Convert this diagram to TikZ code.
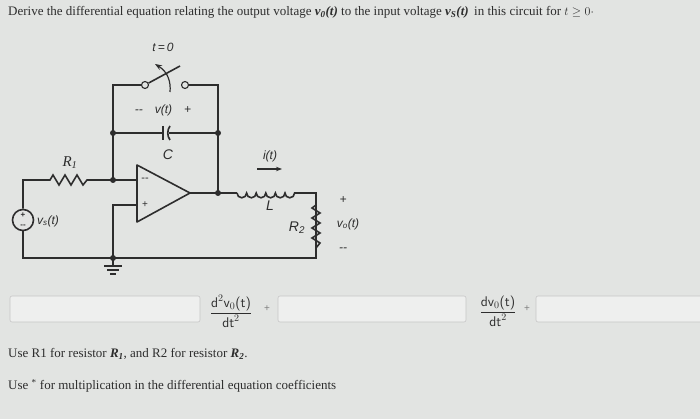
\documentclass[tikz,border=0pt]{standalone}
\usepackage{fontspec}
\setmainfont{Liberation Serif}
\newfontfamily\sans{Liberation Sans}
\usetikzlibrary{arrows.meta}
\definecolor{bg}{RGB}{226,228,226}
\definecolor{ink}{RGB}{45,45,45}
\begin{document}
\begin{tikzpicture}[x=1pt,y=-1pt,
  w/.style={draw=ink,line width=1.6pt},
  dot/.style={circle,fill=ink,inner sep=0pt,minimum size=6pt},
  lab/.style={font=\sans\fontsize{12}{12}\selectfont\itshape,text=ink,inner sep=0pt},
  box/.style={draw=gray!45,fill=bg!60!white,rounded corners=2pt,line width=0.6pt},
  txt/.style={font=\fontsize{13}{13}\selectfont,text=ink,anchor=west,inner sep=0pt}]
\fill[bg] (0,0) rectangle (700,419);
\useasboundingbox (0,0) rectangle (700,419);
% title
\node[txt] (title) at (8,12) {Derive the differential equation relating the output voltage \textbf{\textit{v\textsubscript{0}(t)}} to the input voltage \textbf{\textit{v\textsubscript{S}(t)}}\, in this circuit for {\sans $t\geq0$}$\cdot$};
% coordinates
\coordinate (a) at (23,180); \coordinate (b) at (23,258);
\coordinate (n1) at (113,180); \coordinate (g) at (113,258);
\coordinate (np) at (113,205);
\coordinate (o) at (218,193);
\coordinate (r) at (316,193); \coordinate (rb) at (316,258);
% source
\node[circle,draw=ink,line width=1.6pt,minimum size=21pt,inner sep=0pt] (vs) at (23,220) {};
\node[font=\sans\fontsize{8}{8}\selectfont\bfseries,text=ink] (vsp) at (23,215) {+};
\node[font=\sans\fontsize{8}{8}\selectfont\bfseries,text=ink] (vsm) at (23,226) {--};
\draw[w] (vs) -- (a) -- (50,180) -- (53,175) -- (59,185) -- (65,175) -- (71,185) -- (77,175) -- (83,185) -- (87,180) -- (n1);
\draw[w] (vs) -- (b) -- (rb) -- (r) -- (295,193);
% opamp
\draw[w,line join=round] (137,165) -- (190,193) -- (137,222) -- cycle;
\node[lab,font=\sans\fontsize{11}{11}\selectfont] (mi) at (145,180) {--};
\node[lab,font=\sans\fontsize{10}{10}\selectfont] (pl) at (145,205) {+};
\draw[w] (n1) -- (137,180);
\draw[w] (137,205) -- (np) -- (g);
\draw[w] (190,193) -- (o) -- (237,193);
% feedback
\coordinate (ct) at (113,133); \coordinate (co) at (218,133);
\draw[w] (n1) -- (ct) -- (113,85) -- (142,85);
\draw[w] (188,85) -- (218,85) -- (co) -- (o);
\draw[w] (ct) -- (163,133); \draw[w] (169,133) -- (co);
\draw[w] (163,126) -- (163,140);
\draw[w] (170,126) .. controls (167,130) and (167,136) .. (170,140);
\node[circle,draw=ink,line width=1.1pt,fill=bg,minimum size=7pt,inner sep=0pt] (s1) at (145,85) {};
\node[circle,draw=ink,line width=1.1pt,fill=bg,minimum size=7pt,inner sep=0pt] (s2) at (185,85) {};
\draw[w] (s1) -- (180,66);
\draw[draw=ink,line width=1.2pt,-{Stealth[length=7pt]}] (170,92) .. controls (171,82) and (168,72) .. (155,64);
% inductor
\draw[w] (237,193) arc (180:0:4.8) arc (180:0:4.8) arc (180:0:4.8) arc (180:0:4.8) arc (180:0:4.8) arc (180:0:4.8) -- (295,193);
% R2
\draw[w] (316,205) -- (312,208) -- (320,213) -- (312,218) -- (320,223) -- (312,228) -- (320,233) -- (312,238) -- (320,243) -- (316,248);
\draw[draw=ink,line width=1.2pt,-{Stealth[length=6pt]}] (257,169) -- (282,169);
\foreach \p in {n1,g,o,ct,co} \node[dot] at (\p) {};
% ground
\draw[w] (g) -- (113,266);
\draw[w] (104,266) -- (122,266); \draw[w] (107,270) -- (119,270); \draw[w] (110,274) -- (116,274);
% labels
\node[lab] (lt) at (163,47) {t\,=\,0};
\node[lab] (lv) at (163,110) {--\quad v(t)\quad +};
\node[lab,font=\sans\fontsize{14}{14}\selectfont\itshape] (lc) at (168,155) {C};
\node[lab] (li) at (270,156) {i(t)};
\node[lab,font=\sans\fontsize{14}{14}\selectfont\itshape] (lL) at (270,206) {L};
\node[lab,font=\fontsize{15}{15}\selectfont\itshape] (lr1) at (70,163) {R\textsubscript{1}};
\node[lab,font=\sans\fontsize{14}{14}\selectfont\itshape] (lr2) at (297,228) {R\textsubscript{2}};
\node[lab] (ls) at (48,221) {v\textsubscript{s}(t)};
\node[lab] (lp) at (343,200) {+};
\node[lab] (lo) at (348,224) {v\textsubscript{o}(t)};
\node[lab] (lm) at (343,250) {--};
% answer row
\draw[box] (10,296) rectangle (200,322);
\draw[box] (278,296) rectangle (466,322);
\draw[box] (536,296) rectangle (704,322);
\node[font=\sans\fontsize{14}{14}\selectfont,text=ink] (f1) at (231,311) {$\displaystyle\frac{\textsf{d}^2\textsf{v}_0\textsf{(t)}}{\textsf{dt}^2}$};
\node[font=\sans\fontsize{14}{14}\selectfont,text=ink] (f2) at (498,311) {$\displaystyle\frac{\textsf{dv}_0\textsf{(t)}}{\textsf{dt}^2}$};
\node[text=gray,font=\sans\fontsize{10}{10}\selectfont] (p1) at (267,309) {+};
\node[text=gray,font=\sans\fontsize{10}{10}\selectfont] (p2) at (527,309) {+};
\node[txt] (t1) at (8,354) {Use R1 for resistor \textbf{\textit{R\textsubscript{1}}}, and R2 for resistor \textbf{\textit{R\textsubscript{2}}}.};
\node[txt] (t2) at (8,386) {Use \textsuperscript{*} for multiplication in the differential equation coefficients};
\end{tikzpicture}
\end{document}
